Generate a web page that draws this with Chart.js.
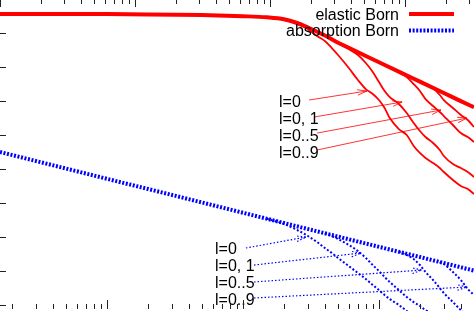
<!DOCTYPE html>
<html>
<head>
<meta charset="utf-8">
<script src="https://cdn.jsdelivr.net/npm/chart.js@4"></script>
<style>
  html, body { margin: 0; padding: 0; background: #fff; }
  #wrap { width: 474px; height: 311px; position: relative; overflow: hidden; }
</style>
</head>
<body>
<div id="wrap"><canvas id="plot" width="474" height="311"></canvas></div>
<script>
// energies (bottom axis, log) and cross sections (left axis, log)
const elasticE    = [0.0163, 0.05, 0.1, 0.2, 0.5, 1, 1.5, 2, 2.5, 3, 4, 5, 6, 8, 10, 15, 20, 30, 40, 50];
const elasticBorn = [0.362, 0.362, 0.36, 0.353, 0.336, 0.312, 0.29, 0.255, 0.197, 0.145, 0.0844, 0.0519, 0.0365, 0.0211, 0.0138, 0.00639, 0.00372, 0.00172, 0.00099, 0.000653];

const redL0E  = [2.5, 3, 3.5, 4, 4.5, 5, 6, 7, 8, 9, 10, 11, 12, 14, 16, 18, 20, 22, 25, 28, 30, 35, 40, 45, 50];
const redL0   = [0.197, 0.13, 0.0816, 0.0582, 0.0362, 0.0225, 0.00935, 0.00415, 0.00225, 0.00161, 0.00107, 0.000622, 0.000316, 0.00015, 0.0001, 4.75e-5, 2.96e-5, 2.11e-5, 1.5e-5, 1.07e-5, 8.16e-6, 4.75e-6, 3.16e-6, 2.58e-6, 1.84e-6];
const redL01E = [5, 6, 7, 8, 9, 10, 11, 12, 14, 16, 18, 20, 22, 25, 28, 30, 35, 40, 45, 50];
const redL01  = [0.0519, 0.0338, 0.0225, 0.0131, 0.00713, 0.00362, 0.00197, 0.00131, 0.000816, 0.000444, 0.000225, 0.000131, 8.73e-5, 5.82e-5, 3.62e-5, 2.41e-5, 1.4e-5, 1.07e-5, 8.16e-6, 5.82e-6];
const redL05E = [14, 16, 18, 20, 22, 25, 28, 30, 35, 40, 45, 50];
const redL05  = [0.00703, 0.00508, 0.00316, 0.00197, 0.00114, 0.000713, 0.000475, 0.000362, 0.000197, 0.000114, 8.73e-5, 6.22e-5];
const redL09E = [25, 28, 30, 35, 40, 45, 50];
const redL09  = [0.00244, 0.0015, 0.00107, 0.000622, 0.000388, 0.000276, 0.000172];

const absE    = [0.0163, 0.05, 0.2, 1, 5, 20, 50];
const absBorn = [3.16e-5, 1.03e-5, 2.58e-6, 5.16e-7, 1.03e-7, 2.58e-8, 1.03e-8];

const absL0E  = [1.5, 2, 2.5, 3, 3.5, 4, 4.5, 5, 6, 7, 8, 9, 10, 11, 12, 14, 16, 18];
const absL0   = [3.44e-7, 2.41e-7, 1.61e-7, 1.07e-7, 7.13e-8, 4.75e-8, 3.38e-8, 2.41e-8, 1.4e-8, 8.73e-9, 5.82e-9, 3.88e-9, 2.76e-9, 1.97e-9, 1.5e-9, 1.0e-9, 6.66e-10, 4.44e-10];
const absL01E = [4, 4.5, 5, 6, 7, 8, 9, 10, 11, 12, 14, 16, 18, 20, 22, 25];
const absL01  = [1.29e-7, 1.07e-7, 8.73e-8, 5.82e-8, 3.88e-8, 2.41e-8, 1.5e-8, 1.0e-8, 6.66e-9, 4.75e-9, 2.76e-9, 1.72e-9, 1.22e-9, 9.35e-10, 7.13e-10, 5.43e-10];
const absL05E = [14, 16, 18, 20, 22, 25, 28, 30, 35, 40, 45];
const absL05  = [3.69e-8, 2.96e-8, 2.25e-8, 1.5e-8, 9.35e-9, 5.43e-9, 3.16e-9, 2.25e-9, 1.22e-9, 7.13e-10, 4.75e-10];
const absL09E = [28, 30, 35, 40, 45, 50];
const absL09  = [1.84e-8, 1.61e-8, 9.35e-9, 5.43e-9, 2.96e-9, 1.97e-9];

// axis ranges
const xRange  = [0.0163, 50];
const x2Range = [0.01, 32.4];
const yRange  = [6.67e-10, 0.935];

// labels with arrows (data coordinates)
const redLabels  = ['l=0', 'l=0, 1', 'l=0..5', 'l=0..9'];
const redLabelX  = 1.84;
const redLabelY  = [1e-3, 3.16e-4, 1e-4, 3.16e-5];
const redTails   = [[3.06, 0.00107], [3.33, 0.000338], [3.5, 0.000114], [3.5, 3.62e-5]];
const redHeads   = [[8.16, 0.00197], [14.8, 0.000935], [28.6, 0.000543], [44.4, 0.000316]];

const blueLabels = ['l=0', 'l=0, 1', 'l=0..5', 'l=0..9'];
const blueLabelX = 0.622;
const blueLabelY = [4.75e-8, 1.5e-8, 4.75e-9, 1.5e-9];
const blueTails  = [[1.05, 4.75e-8], [1.205, 1.5e-8], [1.205, 4.75e-9], [1.205, 1.61e-9]];
const blueHeads  = [[2.91, 1e-7], [7.37, 3.38e-8], [20.7, 1.07e-8], [44.4, 3.38e-9]];

const FONT = '16px "Liberation Sans", Arial, Helvetica, sans-serif';

function pts(xs, ys) {
    return xs.map((x, i) => ({ x: x, y: ys[i] }));
}

function logTicks(min, max) {
    const out = [];
    for (let e = Math.floor(Math.log10(min)); e <= Math.ceil(Math.log10(max)); e++) {
        for (let m = 1; m <= 9; m++) {
            const v = m * Math.pow(10, e);
            if (v >= min * 0.999 && v <= max * 1.001) out.push({ v: v, major: m === 1 });
        }
    }
    return out;
}

function arrow(ctx, x1, y1, x2, y2) {
    const a = Math.atan2(y2 - y1, x2 - x1);
    const len = 10, spread = 0.28;
    ctx.beginPath();
    ctx.moveTo(x1, y1);
    ctx.lineTo(x2, y2);
    ctx.stroke();
    ctx.beginPath();
    ctx.moveTo(x2 - len * Math.cos(a - spread), y2 - len * Math.sin(a - spread));
    ctx.lineTo(x2, y2);
    ctx.lineTo(x2 - len * Math.cos(a + spread), y2 - len * Math.sin(a + spread));
    ctx.stroke();
}

// legend, labels and arrows drawn over the curves
const annotations = {
    id: 'annotations',
    afterDatasetsDraw(chart) {
        const ctx = chart.ctx;
        const xs = chart.scales.x, ys = chart.scales.y;
        const R = chart.chartArea.right;
        ctx.save();

        // arrows
        ctx.lineWidth = 1;
        ctx.strokeStyle = 'rgba(255,0,0,0.8)';
        ctx.setLineDash([]);
        redTails.forEach((t, i) => {
            arrow(ctx, xs.getPixelForValue(t[0]), ys.getPixelForValue(t[1]),
                  xs.getPixelForValue(redHeads[i][0]), ys.getPixelForValue(redHeads[i][1]));
        });
        ctx.strokeStyle = '#0000ff';
        ctx.lineWidth = 1.2;
        ctx.setLineDash([1.5, 2]);
        blueTails.forEach((t, i) => {
            arrow(ctx, xs.getPixelForValue(t[0]), ys.getPixelForValue(t[1]),
                  xs.getPixelForValue(blueHeads[i][0]), ys.getPixelForValue(blueHeads[i][1]));
        });

        // texts
        ctx.setLineDash([]);
        ctx.font = FONT;
        ctx.fillStyle = '#000';
        ctx.textAlign = 'left';
        ctx.textBaseline = 'alphabetic';
        redLabels.forEach((s, i) => {
            ctx.fillText(s, xs.getPixelForValue(redLabelX), ys.getPixelForValue(redLabelY[i]) + 5.5);
        });
        blueLabels.forEach((s, i) => {
            ctx.fillText(s, xs.getPixelForValue(blueLabelX), ys.getPixelForValue(blueLabelY[i]) + 5.5);
        });

        // key
        ctx.textAlign = 'right';
        ctx.fillText('elastic Born', R - 75, 19.5);
        ctx.fillText('absorption Born', R - 75, 35.5);
        ctx.lineWidth = 4;
        ctx.strokeStyle = '#ff0000';
        ctx.beginPath(); ctx.moveTo(R - 65, 14); ctx.lineTo(R - 20, 14); ctx.stroke();
        ctx.strokeStyle = '#0000ff';
        ctx.setLineDash([2, 1.6]);
        ctx.beginPath(); ctx.moveTo(R - 65, 30.5); ctx.lineTo(R - 20, 30.5); ctx.stroke();
        ctx.restore();
    },
    // tick marks of the (cropped) frame
    afterDraw(chart) {
        const ctx = chart.ctx;
        const { left, top, bottom } = chart.chartArea;
        const xs = chart.scales.x, x2 = chart.scales.x2, ys = chart.scales.y;
        ctx.save();
        ctx.strokeStyle = '#222';
        ctx.lineWidth = 1;
        ctx.beginPath();
        logTicks(xs.min, xs.max).forEach(t => {
            const px = Math.round(xs.getPixelForValue(t.v)) + 0.5;
            ctx.moveTo(px, bottom - 2);
            ctx.lineTo(px, bottom - 2 - (t.major ? 9 : 5));
        });
        logTicks(x2.min, x2.max).forEach(t => {
            const px = Math.round(x2.getPixelForValue(t.v)) + 0.5;
            ctx.moveTo(px, top);
            ctx.lineTo(px, top + (t.major ? 7 : 4));
        });
        logTicks(ys.min, ys.max).filter(t => t.major).forEach(t => {
            const py = Math.round(ys.getPixelForValue(t.v)) + 0.5;
            ctx.moveTo(left, py);
            ctx.lineTo(left + 6, py);
        });
        ctx.stroke();
        ctx.restore();
    }
};

const thinRed = { borderColor: '#ff0000', borderWidth: 1.8, pointRadius: 0, cubicInterpolationMode: 'monotone', order: 2 };
const thinBlue = { borderColor: '#0000ff', borderWidth: 2, borderDash: [2, 2], pointRadius: 0, cubicInterpolationMode: 'monotone', order: 3 };

new Chart(document.getElementById('plot'), {
    type: 'line',
    data: {
        datasets: [
            { label: 'elastic Born', data: pts(elasticE, elasticBorn), borderColor: '#ff0000', borderWidth: 4, pointRadius: 0, cubicInterpolationMode: 'monotone', order: 0 },
            { label: 'absorption Born', data: pts(absE, absBorn), borderColor: '#0000ff', borderWidth: 4, borderDash: [2, 1.6], pointRadius: 0, order: 1 },
            Object.assign({ label: 'elastic l=0', data: pts(redL0E, redL0) }, thinRed),
            Object.assign({ label: 'elastic l=0,1', data: pts(redL01E, redL01) }, thinRed),
            Object.assign({ label: 'elastic l=0..5', data: pts(redL05E, redL05) }, thinRed),
            Object.assign({ label: 'elastic l=0..9', data: pts(redL09E, redL09) }, thinRed),
            Object.assign({ label: 'absorption l=0', data: pts(absL0E, absL0) }, thinBlue),
            Object.assign({ label: 'absorption l=0,1', data: pts(absL01E, absL01) }, thinBlue),
            Object.assign({ label: 'absorption l=0..5', data: pts(absL05E, absL05) }, thinBlue),
            Object.assign({ label: 'absorption l=0..9', data: pts(absL09E, absL09) }, thinBlue)
        ]
    },
    options: {
        responsive: false,
        animation: false,
        layout: { padding: 0 },
        plugins: { legend: { display: false }, tooltip: { enabled: false } },
        scales: {
            x:  { type: 'logarithmic', position: 'bottom', min: xRange[0], max: xRange[1], bounds: 'data', display: false },
            x2: { type: 'logarithmic', position: 'top', min: x2Range[0], max: x2Range[1], bounds: 'data', display: false },
            y:  { type: 'logarithmic', min: yRange[0], max: yRange[1], bounds: 'data', display: false }
        }
    },
    plugins: [annotations]
});
</script>
</body>
</html>
